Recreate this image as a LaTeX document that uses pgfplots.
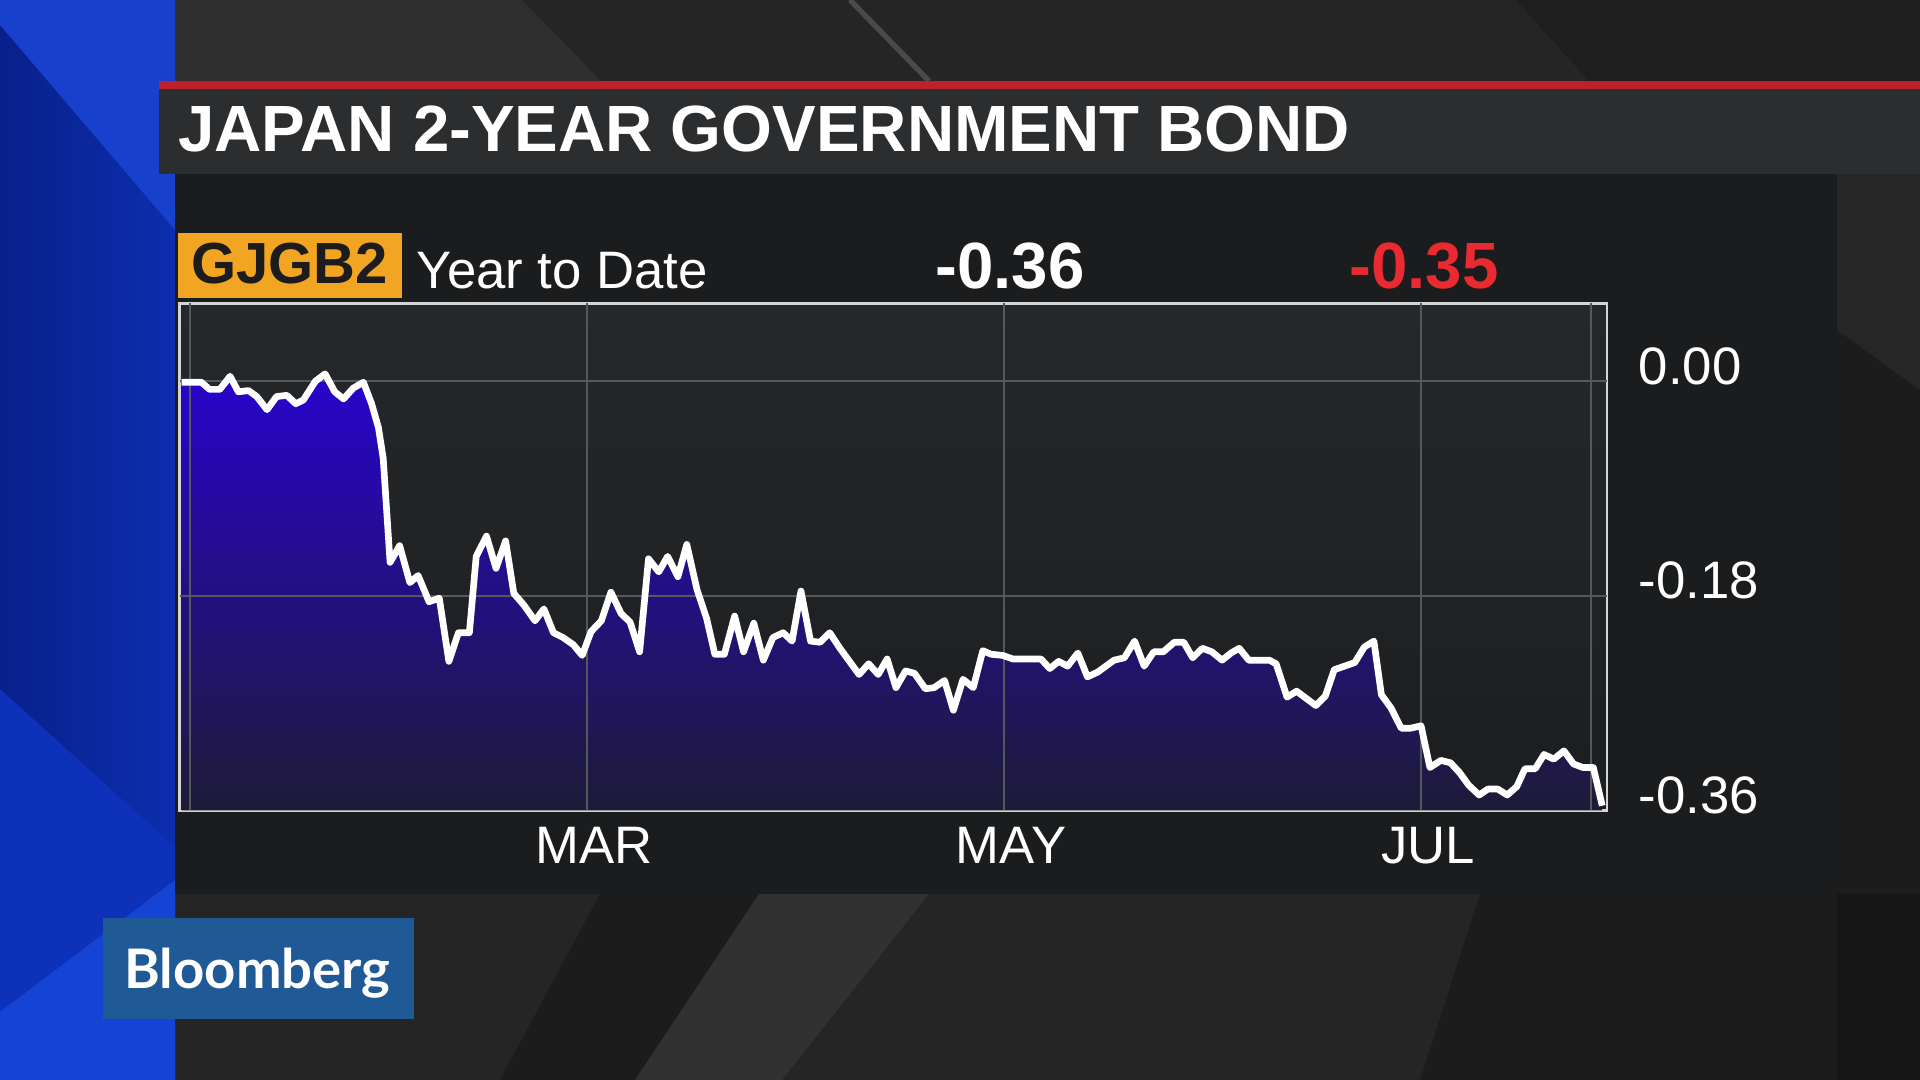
\documentclass[border=0pt]{standalone}
\usepackage{fontspec}
\setmainfont{Liberation Sans}
\newfontfamily\latofont{Lato}
\usepackage{pgfplots}
\pgfplotsset{compat=1.18}
\usepackage{pgfplotstable}

\definecolor{bggray}{HTML}{252525}
\definecolor{panel}{HTML}{1B1C1D}
\definecolor{titlebar}{HTML}{2B2D2F}
\definecolor{redline}{HTML}{C0202C}
\definecolor{orangebox}{HTML}{F2A523}
\definecolor{redtext}{HTML}{EA2A30}
\definecolor{gridgray}{HTML}{55585A}
\definecolor{bordercol}{HTML}{D4D4D4}
\definecolor{fillTop}{HTML}{2804CC}
\definecolor{fillMid}{HTML}{22147A}
\definecolor{fillBot}{HTML}{1E1B38}
\definecolor{plotTop}{HTML}{25282A}
\definecolor{plotBot}{HTML}{1C1D1F}
\definecolor{bbgblue}{HTML}{1F5A96}
\definecolor{gA}{HTML}{2F2F2F}
\definecolor{gB}{HTML}{1E1E1E}
\definecolor{gC}{HTML}{4A4A4A}
\definecolor{gD}{HTML}{1C1C1C}
\definecolor{gE}{HTML}{262626}
\definecolor{gF}{HTML}{1C1C1C}
\definecolor{gG}{HTML}{313131}
\definecolor{gH}{HTML}{1C1C1C}
\definecolor{gI}{HTML}{161616}
\definecolor{gtext}{HTML}{1C1C1C}
\definecolor{bA}{HTML}{08208A}
\definecolor{bB}{HTML}{0C2EAE}
\definecolor{bC}{HTML}{1741CC}
\definecolor{bD}{HTML}{0D31B8}
\definecolor{bE}{HTML}{1544D4}

\pgfplotstableread{
day val
1.7 -0.001
4.6 -0.001
5.8 -0.007
7.3 -0.007
8.8 0.004
10.0 -0.009
11.5 -0.008
12.7 -0.013
14.2 -0.024
15.6 -0.013
17.1 -0.012
18.4 -0.019
19.5 -0.016
21.3 0.000
22.7 0.006
24.1 -0.009
25.4 -0.015
26.8 -0.006
28.3 -0.001
29.5 -0.019
30.5 -0.039
31.2 -0.065
32.2 -0.152
33.6 -0.138
35.1 -0.169
36.3 -0.163
37.9 -0.185
39.4 -0.182
40.8 -0.235
42.2 -0.211
43.8 -0.211
44.8 -0.147
46.3 -0.130
47.7 -0.157
49.1 -0.134
50.3 -0.178
51.8 -0.188
53.4 -0.201
54.7 -0.191
56.1 -0.211
57.5 -0.215
59.0 -0.221
60.3 -0.230
61.6 -0.210
63.1 -0.201
64.5 -0.177
66.0 -0.195
67.3 -0.202
68.7 -0.227
70.0 -0.149
71.5 -0.160
72.8 -0.147
74.3 -0.164
75.6 -0.137
77.1 -0.175
78.5 -0.199
79.7 -0.229
81.1 -0.229
82.6 -0.197
83.9 -0.227
85.4 -0.203
86.8 -0.234
88.2 -0.215
89.7 -0.211
91.0 -0.218
92.3 -0.176
93.7 -0.218
95.1 -0.219
96.5 -0.211
98.0 -0.224
99.4 -0.235
100.8 -0.246
102.2 -0.237
103.6 -0.246
104.9 -0.233
106.2 -0.257
107.6 -0.243
108.9 -0.245
110.5 -0.258
111.8 -0.257
113.3 -0.251
114.6 -0.276
116.0 -0.250
117.5 -0.257
118.9 -0.226
120.1 -0.229
121.8 -0.230
123.3 -0.233
127.4 -0.233
128.7 -0.241
130.0 -0.235
131.3 -0.239
132.8 -0.228
134.2 -0.248
135.7 -0.244
138.1 -0.234
139.6 -0.232
141.1 -0.218
142.5 -0.239
143.9 -0.227
145.3 -0.227
146.9 -0.219
148.3 -0.219
149.6 -0.232
151.0 -0.224
152.4 -0.227
153.9 -0.234
155.2 -0.228
156.4 -0.224
157.8 -0.234
160.8 -0.234
161.8 -0.237
163.4 -0.265
164.8 -0.260
166.2 -0.266
167.6 -0.272
169.0 -0.264
170.3 -0.242
171.8 -0.239
173.3 -0.236
174.7 -0.223
176.1 -0.218
177.2 -0.263
178.6 -0.274
180.1 -0.291
181.5 -0.291
183.0 -0.289
184.3 -0.324
185.9 -0.318
187.3 -0.320
188.6 -0.328
190.0 -0.339
191.5 -0.347
192.8 -0.342
194.2 -0.342
195.6 -0.347
197.0 -0.340
198.2 -0.325
199.7 -0.325
201.0 -0.313
202.4 -0.317
203.9 -0.310
205.3 -0.321
206.7 -0.324
208.2 -0.324
209.5 -0.356
}\ytd

\begin{document}
\begin{tikzpicture}
\useasboundingbox (0,0) rectangle (19.2,10.8);
% background
\fill[bggray] (0,0) rectangle (19.2,10.8);
% top streaks
\fill[gA] (1.75,10.8) -- (5.22,10.8) -- (6.01,9.99) -- (1.75,9.99) -- cycle;
\fill[gB] (15.16,10.8) -- (19.2,10.8) -- (19.2,9.99) -- (15.89,9.99) -- cycle;
\draw[gC, line width=1.5pt] (8.50,10.8) -- (9.29,9.99);
% right margin
\fill[gD] (18.37,1.86) rectangle (19.2,9.06);
\fill[gE] (18.37,9.06) -- (19.2,9.06) -- (19.2,6.9) -- (18.37,7.5) -- cycle;
% bottom streaks
\fill[gF] (6.0,1.86) -- (7.59,1.86) -- (6.35,0) -- (5.0,0) -- cycle;
\fill[gG] (7.59,1.86) -- (9.29,1.86) -- (7.82,0) -- (6.35,0) -- cycle;
\fill[gH] (14.8,1.86) -- (18.37,1.86) -- (18.37,0) -- (14.2,0) -- cycle;
\fill[gI] (18.37,0) rectangle (19.2,1.86);
% left blue strip
\shade[left color=bA, right color=bB] (0,0) rectangle (1.75,10.8);
\fill[bC] (0,10.8) -- (1.75,10.8) -- (1.75,8.5) -- (0,10.55) -- cycle;
\fill[bD] (0,3.91) -- (1.75,2.33) -- (1.75,0) -- (0,0) -- cycle;
\fill[bE] (0,0) -- (0,0.68) -- (1.75,2.0) -- (1.75,0) -- cycle;
% title bar and red line
\fill[redline] (1.59,9.91) rectangle (19.2,9.99);
\fill[titlebar] (1.59,9.06) rectangle (19.2,9.91);
% chart panel
\fill[panel] (1.75,1.86) rectangle (18.37,9.06);
% title
\node[anchor=base west, inner sep=0pt, text=white, font=\bfseries\fontsize{18.6}{20}\selectfont] at (1.775,9.28) {JAPAN 2-YEAR GOVERNMENT BOND};
% subtitle row
\fill[orangebox] (1.775,7.824) rectangle (4.016,8.473);
\node[anchor=base, inner sep=0pt, text=gtext, font=\bfseries\fontsize{16.5}{18}\selectfont] at (2.895,7.96) {GJGB2};
\node[anchor=base west, inner sep=0pt, text=white, font=\fontsize{15}{17}\selectfont] at (4.16,7.91) {Year to Date};
\node[anchor=base, inner sep=0pt, text=white, font=\bfseries\fontsize{18.6}{20}\selectfont] at (10.10,7.91) {-0.36};
\node[anchor=base, inner sep=0pt, text=redtext, font=\bfseries\fontsize{18.6}{20}\selectfont] at (14.24,7.91) {-0.35};
% Bloomberg logo
\fill[bbgblue] (1.03,0.61) rectangle (4.14,1.62);
\node[anchor=base, inner sep=0pt, text=white, font=\latofont\bfseries\fontsize{15.5}{17}\selectfont] at (2.575,0.91) {Bloomberg};

\begin{axis}[
  at={(1.795cm,2.695cm)}, anchor=south west,
  width=14.275cm, height=5.07cm, scale only axis,
  xmin=1.4, xmax=210.2, ymin=-0.36, ymax=0.065,
  axis background/.style={shade, top color=plotTop, bottom color=plotBot},
  axis line style={draw=bordercol, line width=0.8pt},
  xtick={61,122,183}, xticklabels={MAR,MAY,JUL},
  ytick={0,-0.18,-0.36}, yticklabels={0.00,-0.18,-0.36},
  yticklabel pos=right,
  major tick length=0pt,
  xtick style={draw=none}, ytick style={draw=none},
  xticklabel style={font=\fontsize{15}{15}\selectfont, text=white, anchor=north, inner sep=0pt, yshift=-0.16cm, xshift=0.07cm},
  yticklabel style={font=\fontsize{15}{15}\selectfont, text=white, anchor=base west, inner sep=0pt, xshift=0.31cm, yshift=-0.03cm},
  clip=true,
]
\addplot[draw=none, shade, top color=fillTop, middle color=fillMid, bottom color=fillBot]
  table[x=day,y=val]{\ytd} -- (axis cs:209.5,-0.36) -- (axis cs:1.7,-0.36) -- cycle;
\draw[gridgray, line width=0.6pt] (axis cs:2.9,-0.36) -- (axis cs:2.9,0.065);
\draw[gridgray, line width=0.6pt] (axis cs:61,-0.36) -- (axis cs:61,0.065);
\draw[gridgray, line width=0.6pt] (axis cs:122,-0.36) -- (axis cs:122,0.065);
\draw[gridgray, line width=0.6pt] (axis cs:183,-0.36) -- (axis cs:183,0.065);
\draw[gridgray, line width=0.6pt] (axis cs:207.8,-0.36) -- (axis cs:207.8,0.065);
\draw[gridgray, line width=0.6pt] (axis cs:1.4,0) -- (axis cs:210.2,0);
\draw[gridgray, line width=0.6pt] (axis cs:1.4,-0.18) -- (axis cs:210.2,-0.18);
\addplot[white, line width=1.9pt, line join=round, mark=none] table[x=day,y=val]{\ytd};
\end{axis}
\end{tikzpicture}
\end{document}
